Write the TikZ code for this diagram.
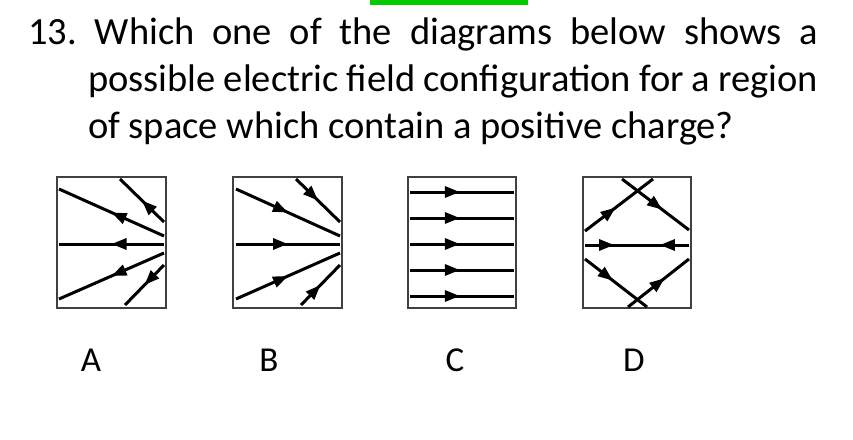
\documentclass[tikz,border=0pt]{standalone}
\usepackage{fontspec}
\setmainfont{Carlito}
\usetikzlibrary{decorations.markings,arrows.meta}
\begin{document}
\begin{tikzpicture}[x=1pt,y=-1pt,
  fl/.style={line width=3pt,postaction={decorate},decoration={markings,mark=at position #1 with {\arrow{Triangle[length=15pt,width=11pt]}}}},
  fl/.default=0.5,
  frame/.style={draw=black!75,line width=1.6pt},
  qtext/.style={anchor=base west,inner sep=0pt,font=\fontsize{38.5}{44}\selectfont},
  lab/.style={font=\fontsize{35}{40}\selectfont}]
\useasboundingbox (0,0) rectangle (853,439);
\fill[green!80!black] (370,0) rectangle (528,5);
\node[qtext] (l1) at (28,44) {\makebox[790pt][s]{13.\ Which one of the diagrams below shows a}};
\node[qtext] (l2) at (88,91) {\makebox[730pt][s]{possible electric field configuration for a region}};
\node[qtext] (l3) at (88,138) {of space which contain a positive charge?};
% A
\draw[frame] (57,177) rectangle (166,308);
\draw[fl] (164,236) -- (59,189);
\draw[fl] (164,222) -- (120,179);
\draw[fl] (164,244) -- (59,244);
\draw[fl] (164,253) -- (59,299);
\draw[fl] (164,265) -- (125,305);
% B
\draw[frame] (233,177) rectangle (342,308);
\draw[fl] (236,189) -- (340,236);
\draw[fl] (296,179) -- (340,222);
\draw[fl] (236,244) -- (340,244);
\draw[fl] (236,299) -- (340,253);
\draw[fl] (301,305) -- (340,265);
% C
\draw[frame] (408,177) rectangle (516,308);
\foreach \y in {192,218,244,270,296} \draw[fl=0.48] (410,\y) -- (514,\y);
% D
\draw[frame] (583,177) rectangle (691,308);
\draw[fl=0.45] (585,231) -- (653,179);
\draw[fl=0.6] (622,179) -- (689,230);
\draw[fl=0.28] (585,245) -- (689,245);
\draw[fl=0.28] (689,245) -- (585,245);
\draw[fl=0.45] (585,259) -- (647,307);
\draw[fl=0.6] (628,307) -- (689,259);
\node[lab] (A) at (91,360) {A};
\node[lab] (B) at (269,360) {B};
\node[lab] (C) at (455,360) {C};
\node[lab] (D) at (634,360) {D};
\end{tikzpicture}
\end{document}
